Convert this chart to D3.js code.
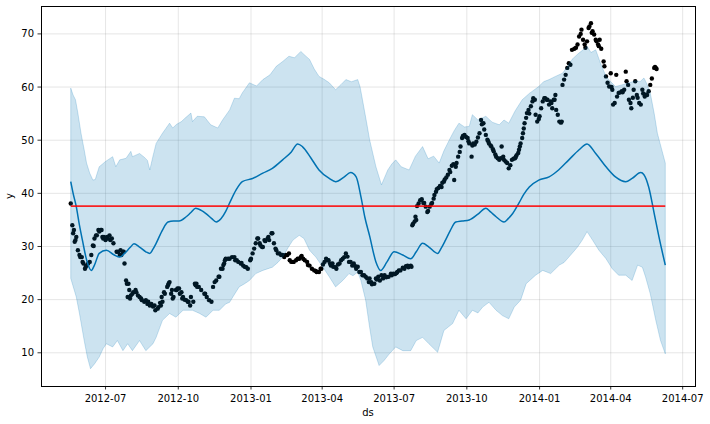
<!DOCTYPE html>
<html>
  <head>
    <meta http-equiv="Content-Type" content="text/html; charset=UTF-8">
    <style type="text/css">
      body { margin: 0; background: #fff; }
      text {
        font-family: 'DejaVu Sans', sans-serif;
        font-size: 10px;
        fill: #000;
      }
    </style>
  </head>
  <body>
    <div id="canvas"></div>
    <script type="text/javascript" src="https://d3js.org/d3.v7.min.js"></script>
    <script type="text/javascript">

    // day 0 of every series below
    var startDate = "2012-05-18";
    var trendLevel = 37.6;

    // [day, y] black dots (history)
    var observed = [
      [0,38.1],[2,34.0],[3,32.5],[4,33.1],[5,30.9],[6,31.2],[7,31.8],[9,29.3],[11,28.4],[12,28.0],[14,28.0],[15,27.1],[16,26.8],[18,25.8],[19,26.2],[20,26.4],[22,26.8],[24,27.1],[26,28.4],[28,30.2],[29,30.1],[30,31.5],[32,32.1],[33,32.1],[35,33.1],[36,32.8],[38,33.1],[39,33.1],[40,31.8],[41,31.5],[42,31.8],[44,31.2],[46,31.8],[47,31.5],[49,32.1],[50,31.2],[52,31.5],[54,30.6],[58,29.0],[60,29.0],[62,28.4],[63,29.3],[64,28.4],[66,29.0],[67,29.0],[68,26.8],
      [70,23.6],[71,23.0],[72,20.5],[73,23.0],[74,21.8],[75,20.2],[76,20.8],[78,21.1],[79,21.4],[82,21.8],[83,21.4],[85,20.8],[87,20.5],[89,20.2],[90,19.9],[93,19.6],[95,19.9],[97,19.2],[98,19.6],[100,18.9],[102,19.2],[104,18.7],[106,18.9],[107,18.0],[110,18.3],[111,18.6],[113,19.4],[114,18.9],[115,20.5],[116,19.6],[118,21.4],[119,21.1],[122,22.4],[123,22.7],[124,23.1],[125,23.3],[127,21.1],[128,21.8],[129,20.2],[130,20.5],[133,21.8],[134,21.8],[135,22.1],[137,22.1],[138,21.1],[140,21.4],[141,20.2],[142,20.5],[144,20.0],[146,19.9],[148,19.6],[149,19.6],[151,18.9],[152,20.5],[155,19.6],[157,23.0],[158,22.7],
      [159,23.0],[160,22.4],[162,22.4],[165,21.8],[169,21.1],[170,21.1],[172,20.5],[175,19.9],[178,19.6],[180,22.4],[182,23.3],[184,23.6],[187,24.3],[188,24.3],[190,25.8],[192,25.8],[193,26.5],[194,26.8],[195,27.4],[196,27.7],[199,27.7],[201,27.7],[204,28.0],[207,28.0],[208,27.4],[210,27.4],[212,27.1],[215,26.8],[216,26.9],[218,26.4],[220,26.2],[222,26.1],[224,25.8],[227,27.4],[228,27.7],[230,28.7],[232,29.6],[234,30.6],[236,31.5],[237,31.5],[239,30.6],[240,30.2],[242,29.9],[243,29.9],[245,31.2],[246,31.0],[249,31.5],[250,31.8],[251,31.2],[254,32.5],[255,32.5],[257,30.6],[259,29.6],[260,29.3],[262,28.7],[264,28.7],[266,28.4],[268,28.4],[270,28.0],[272,28.4],[274,28.4],[276,28.7],[277,27.4],[279,27.1],[281,27.1],[282,27.1],[285,27.4],[287,27.7],[289,27.7],[291,28.0],[292,28.2],[294,27.7],[296,27.4],[299,27.1],[300,26.5],[302,26.4],[305,25.8],[308,25.5],[310,25.4],[311,25.2],[314,25.2],[316,25.8],[317,25.8],[319,26.6],[321,27.1],[323,27.7],[325,27.4],[326,27.4],[328,26.8],[329,26.4],
      [331,26.8],[332,26.2],[335,26.1],[336,25.8],[338,26.6],[340,26.8],[342,27.4],[344,27.7],[346,28.0],[348,28.7],[350,28.1],[352,27.1],[354,27.1],[356,26.4],[358,26.8],[360,26.3],[361,25.8],[363,26.2],[365,25.2],[367,25.2],[369,24.6],[371,24.6],[373,24.3],[375,24.0],[377,23.3],[378,24.0],[380,23.3],[381,22.9],[384,23.0],[386,24.0],[387,23.8],[389,24.3],[391,23.6],[393,24.6],[395,24.0],[397,24.6],[399,24.2],[402,24.3],[405,24.9],[406,24.6],[408,24.9],[410,24.8],[412,25.0],[413,25.2],[415,25.5],[417,25.5],[420,26.0],[422,25.8],[424,26.3],[426,26.4],[427,26.1],[430,26.4],[431,26.2],
      [432,34.0],[433,34.3],[435,34.7],[436,35.6],[437,35.0],[438,37.6],[440,38.1],[442,38.7],[444,38.9],[446,38.2],[447,38.2],[449,37.5],[451,36.5],[452,36.7],[454,37.5],[456,38.0],[457,38.2],[459,39.0],[460,39.7],[462,40.3],[463,40.8],[465,41.0],[467,41.4],[469,41.2],[470,42.0],[472,42.2],[473,42.6],[475,43.0],[477,43.5],[479,44.4],[480,44.0],[482,45.2],[484,45.5],[485,42.5],[487,45.0],[488,45.7],[490,46.9],[492,47.8],[493,48.8],[495,50.4],[496,50.8],[498,51.0],[500,50.6],[502,50.4],[503,49.8],[504,49.4],[507,46.9],[508,49.0],[509,49.4],[511,49.2],[513,49.7],[515,50.5],[517,51.3],[519,53.8],[520,53.0],[522,53.2],[523,52.0],[525,51.0],[527,50.1],[528,49.8],[529,49.4],[531,49.0],[532,48.8],[534,48.3],[535,47.9],[537,47.3],[538,46.9],[540,46.6],[542,46.3],[544,46.6],[545,48.8],[547,46.9],[548,46.3],[550,46.0],[552,45.7],[554,44.7],[556,45.3],[558,46.3],[560,46.5],[562,46.6],[563,46.9],[564,47.2],[566,47.6],[567,48.2],[568,48.8],[569,49.4],[571,50.4],[572,51.3],[573,52.2],[574,53.2],[576,54.2],[577,55.1],[579,55.7],[580,55.0],[582,56.4],[584,57.3],[585,57.9],[587,57.6],[588,54.8],[590,53.5],[592,54.0],[593,54.5],[595,56.0],[597,57.3],[599,57.9],[600,57.9],[602,57.6],[603,57.6],[605,56.7],[607,57.3],[608,57.0],[609,56.0],[611,57.6],[612,57.6],[613,58.5],[614,55.7],[616,54.8],[618,53.5],[620,53.3],[621,53.5],
      [622,60.4],[624,61.4],[626,62.3],[628,63.6],[630,64.5],[632,64.2],[634,67.0],[637,67.2],[639,67.4],[641,68.0],[643,69.5],[645,70.0],[646,70.8],[648,68.9],[650,68.0],[651,67.4],[653,68.6],[655,71.1],[656,71.4],[658,72.0],[659,70.2],[660,70.5],[662,69.9],[664,68.9],[665,68.6],[667,68.0],[668,67.7],[669,68.9],[671,67.2],[674,64.8],[675,63.9],[677,62.0],[679,60.8],[681,60.1],[683,62.6],[684,60.0],[685,59.5],[686,56.7],[688,57.0],[690,62.3],[691,58.2],[693,58.9],[695,59.0],[697,59.2],[698,59.0],[700,59.5],[702,62.9],[703,61.1],[705,60.4],[706,57.6],[708,57.0],[709,56.0],[711,58.0],[712,59.5],[714,61.1],[716,58.5],[717,58.0],[719,57.0],[721,56.7],[723,59.5],[724,58.8],[726,58.2],[728,58.6],[729,58.5],[731,59.2],[733,60.4],[735,61.6],[738,63.6],[739,63.8],[740,63.6],[741,63.4]
    ];

    // [day, value] forecast line
    var yhat = [
      [0,42.2],[3,40.0],[7,37.5],[11,34.0],[15,31.0],[20,27.5],[26,25.5],[30,26.5],[36,28.7],[45,29.3],[55,28.4],[62,28.0],[68,28.7],[75,29.8],[80,30.5],[87,29.9],[95,29.0],[100,28.7],[104,29.5],[108,30.6],[116,33.1],[123,34.6],[130,34.8],[137,34.8],[146,35.6],[152,36.4],[158,37.2],[165,36.8],[171,36.2],[178,35.3],[184,34.6],[190,35.2],[196,36.6],[201,38.2],[209,40.6],[217,42.2],[230,42.8],[243,43.8],[255,44.7],[268,46.3],[279,47.8],[287,49.3],[293,48.8],[304,46.6],[314,44.4],[327,42.8],[335,42.2],[346,43.1],[354,43.9],[361,43.1],[367,39.4],[372,35.5],[378,32.0],[386,27.1],[392,25.5],[400,27.1],[409,29.0],[420,28.4],[430,27.7],[437,29.0],[445,30.6],[453,29.9],[464,28.7],[469,29.8],[474,31.2],[480,33.0],[487,34.6],[495,34.8],[504,35.0],[516,36.2],[525,37.2],[531,36.5],[538,35.6],[548,34.6],[553,35.2],[559,36.2],[567,38.2],[573,39.8],[580,41.2],[592,42.5],[605,43.1],[617,44.4],[630,46.3],[643,48.2],[653,49.3],[664,47.5],[677,45.0],[689,43.1],[702,42.2],[710,42.8],[721,43.9],[725,43.5],[731,41.2],[738,36.2],[744,31.8],[752,26.5]
    ];

    var yhatUpper = [
      [0,59.8],[3,58.5],[6,57.6],[9,55.1],[13,51.3],[17,48.2],[20,45.7],[24,43.8],[28,42.5],[31,42.6],[36,45.0],[44,46.0],[53,46.9],[57,45.0],[62,46.3],[70,46.6],[76,47.9],[78,46.9],[87,47.5],[93,46.8],[97,46.2],[100,44.4],[104,47.0],[108,49.4],[116,51.3],[125,53.2],[129,52.3],[134,53.0],[140,53.5],[145,54.2],[152,55.1],[154,53.5],[160,54.5],[169,54.4],[177,52.9],[186,52.3],[192,53.8],[201,55.7],[207,57.9],[213,57.8],[217,58.9],[226,60.8],[235,60.2],[243,61.4],[252,62.3],[260,63.9],[268,64.8],[276,65.8],[283,65.5],[291,66.7],[296,66.0],[302,65.2],[308,63.4],[314,62.0],[320,61.5],[327,60.8],[335,59.5],[342,60.5],[348,61.4],[355,61.0],[363,61.4],[366,60.0],[369,57.6],[374,53.5],[378,50.1],[386,45.0],[393,41.6],[397,43.0],[401,44.4],[406,45.5],[411,46.3],[418,45.0],[428,44.4],[436,47.0],[445,48.8],[452,46.5],[459,47.0],[466,45.7],[472,48.0],[479,50.1],[485,51.8],[491,53.2],[498,52.5],[504,52.6],[508,54.8],[515,53.8],[525,54.5],[533,53.4],[542,52.9],[548,53.8],[554,53.2],[562,55.5],[571,57.6],[580,58.8],[592,60.1],[598,61.0],[605,61.4],[613,62.0],[622,62.6],[628,63.8],[634,65.2],[642,66.3],[648,67.0],[653,67.7],[658,66.5],[664,67.0],[670,64.5],[677,62.0],[683,61.0],[689,60.1],[697,60.4],[706,60.8],[715,61.2],[720,61.0],[725,61.7],[729,60.5],[733,58.9],[738,55.0],[742,51.3],[747,48.5],[752,45.7]
    ];

    var yhatLower = [
      [0,24.0],[4,22.0],[7,20.5],[11,17.4],[17,12.3],[21,9.2],[25,7.0],[30,7.9],[36,9.2],[41,10.8],[45,11.7],[53,11.1],[59,12.3],[66,10.4],[72,11.7],[78,10.4],[87,12.3],[95,10.4],[104,11.7],[108,12.9],[116,16.1],[125,17.4],[133,16.7],[142,18.0],[154,18.0],[163,17.4],[171,16.7],[180,18.0],[188,18.0],[196,19.2],[201,19.5],[205,20.5],[213,22.4],[220,23.0],[226,23.6],[234,24.9],[243,25.5],[255,26.1],[262,27.0],[268,28.0],[275,29.8],[281,31.2],[289,32.1],[295,31.5],[302,29.3],[310,28.0],[319,26.1],[327,24.3],[335,22.4],[344,23.6],[352,24.9],[357,24.5],[363,25.2],[367,23.6],[373,19.9],[378,14.8],[382,11.1],[388,8.5],[390,7.6],[396,8.5],[403,9.8],[411,11.1],[420,10.4],[430,10.4],[437,12.3],[445,12.9],[453,11.7],[464,10.1],[472,14.2],[483,15.5],[491,18.0],[500,16.4],[508,18.0],[515,17.5],[521,18.6],[529,19.5],[538,18.0],[546,17.0],[554,16.4],[561,18.6],[569,19.9],[576,23.0],[582,23.8],[588,24.6],[597,25.5],[607,24.9],[618,26.5],[624,27.0],[630,28.0],[641,29.9],[647,31.2],[653,32.8],[660,31.2],[668,29.3],[677,27.7],[685,25.8],[693,24.6],[702,24.6],[710,23.6],[717,26.5],[723,26.1],[727,24.3],[733,21.1],[740,16.1],[746,12.3],[752,9.8]
    ];

    var yTicks = [10, 20, 30, 40, 50, 60, 70];

    var width = 710, height = 424;
    var margin = {top: 6, right: 15, bottom: 38, left: 41};
    var w = width - margin.left - margin.right;
    var h = height - margin.top - margin.bottom;

    var t0 = d3.timeParse("%Y-%m-%d")(startDate);
    var toDate = function (d) { return d3.timeDay.offset(t0, d[0]); };

    // matplotlib style 5% padding around the data
    var pad = function (lo, hi) { var m = (hi - lo) * 0.05; return [lo - m, hi + m]; };
    var lastDay = d3.max(yhat, function (d) { return d[0]; });
    var dayExt = pad(0, lastDay);
    var yMin = d3.min(yhatLower, function (d) { return d[1]; });
    var yMax = d3.max(observed, function (d) { return d[1]; });

    var x = d3.scaleTime()
      .domain([d3.timeHour.offset(t0, dayExt[0] * 24), d3.timeHour.offset(t0, dayExt[1] * 24)])
      .range([0, w]);
    var y = d3.scaleLinear().domain(pad(yMin, yMax)).range([h, 0]);

    var svg = d3.select('#canvas').append('svg')
      .attr('width', width)
      .attr('height', height);
    var g = svg.append('g').attr('transform', 'translate(' + margin.left + ',' + margin.top + ')');

    var xTicks = x.ticks(d3.timeMonth.every(3));

    // grid
    g.append('g').selectAll('line').data(xTicks).enter().append('line')
      .attr('x1', function (d) { return x(d); }).attr('x2', function (d) { return x(d); })
      .attr('y1', 0).attr('y2', h)
      .attr('stroke', 'gray').attr('stroke-opacity', 0.2).attr('stroke-width', 1);
    g.append('g').selectAll('line').data(yTicks).enter().append('line')
      .attr('x1', 0).attr('x2', w)
      .attr('y1', function (d) { return y(d); }).attr('y2', function (d) { return y(d); })
      .attr('stroke', 'gray').attr('stroke-opacity', 0.2).attr('stroke-width', 1);

    // history dots
    g.append('g').selectAll('circle').data(observed).enter().append('circle')
      .attr('cx', function (d) { return x(toDate(d)); })
      .attr('cy', function (d) { return y(d[1]); })
      .attr('r', 2.2)
      .attr('fill', '#000');

    var line = d3.line()
      .x(function (d) { return x(toDate(d)); })
      .y(function (d) { return y(d[1]); });

    g.append('path')
      .attr('d', line.curve(d3.curveMonotoneX)(yhat))
      .attr('fill', 'none')
      .attr('stroke', '#0072B2')
      .attr('stroke-width', 1.5);
    line.curve(d3.curveLinear);

    // uncertainty band: upper edge forward, lower edge back
    var band = yhatUpper.concat(yhatLower.slice().reverse());
    g.append('path')
      .attr('d', line(band) + 'Z')
      .attr('fill', '#0072B2')
      .attr('fill-opacity', 0.2)
      .attr('stroke', '#0072B2')
      .attr('stroke-opacity', 0.2)
      .attr('stroke-width', 1);

    // flat trend
    g.append('path')
      .attr('d', line([[0, trendLevel], [lastDay, trendLevel]]))
      .attr('stroke', '#ff0000')
      .attr('stroke-opacity', 0.85)
      .attr('stroke-width', 1.8);

    // frame
    g.append('rect')
      .attr('x', 0).attr('y', 0).attr('width', w).attr('height', h)
      .attr('fill', 'none').attr('stroke', '#000').attr('stroke-width', 1)
      .attr('shape-rendering', 'crispEdges');

    // x ticks
    var xt = g.append('g').selectAll('g').data(xTicks).enter().append('g')
      .attr('transform', function (d) { return 'translate(' + x(d) + ',' + h + ')'; });
    xt.append('line').attr('y1', 0).attr('y2', 3.5).attr('stroke', '#000').attr('stroke-width', 0.8);
    xt.append('text').attr('y', 16).attr('text-anchor', 'middle').text(d3.timeFormat('%Y-%m'));

    // y ticks
    var yt = g.append('g').selectAll('g').data(yTicks).enter().append('g')
      .attr('transform', function (d) { return 'translate(0,' + y(d) + ')'; });
    yt.append('line').attr('x1', 0).attr('x2', -3.5).attr('stroke', '#000').attr('stroke-width', 0.8);
    yt.append('text').attr('x', -7).attr('dy', '0.35em').attr('text-anchor', 'end').text(function (d) { return d; });

    svg.append('text')
      .attr('x', margin.left + w / 2).attr('y', 416)
      .attr('text-anchor', 'middle').text('ds');
    svg.append('text')
      .attr('transform', 'translate(13,' + (margin.top + h / 2) + ') rotate(-90)')
      .attr('text-anchor', 'middle').text('y');

    </script>
  </body>
</html>
